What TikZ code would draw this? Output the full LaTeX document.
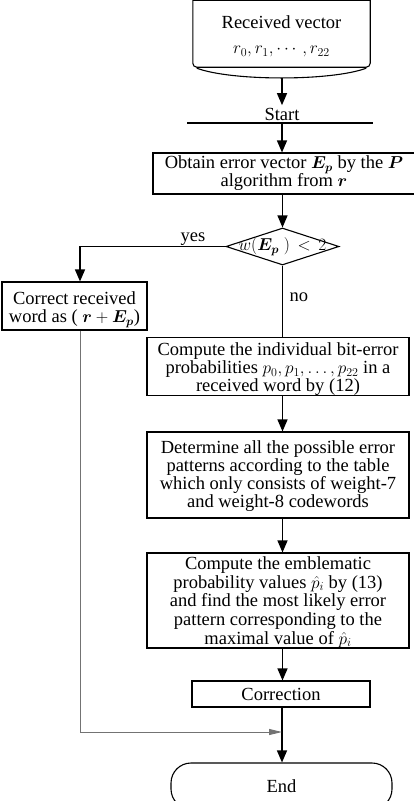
\documentclass[tikz,border=0pt]{standalone}
\usepackage{amsmath,amssymb}
\usepackage{fontspec}
\setmainfont{Liberation Serif}
\usetikzlibrary{arrows.meta, positioning, shapes.geometric, calc}
\newcommand{\boxfont}{\fontsize{18.5pt}{18pt}\selectfont}
\newcommand{\lift}[1]{\rule{0pt}{#1}}

\begin{document}
\begin{tikzpicture}[
    x=1pt, y=-1pt,
    every node/.style={font=\boxfont},
    box/.style={draw, rectangle, align=center, line width=1.1pt, inner sep=0pt},
    flow/.style={-{Triangle[width=10pt,length=12pt]}, line width=1.3pt},
    back/.style={-{Triangle[width=6pt,length=13pt]}, line width=1pt, black!55}
]
    \useasboundingbox (0,0) rectangle (414,801);
    \node (vec) [align=center, minimum width=177pt, minimum height=61pt, inner sep=0pt] at (281.5,36.5) {Received vector\\[7pt] $r_0, r_1, \cdots, r_{22}$};
    \draw[line width=1.1pt, rounded corners=4pt] ($(vec.north west)+(0,-6)$) -- (vec.south west) -- (vec.south east) -- ($(vec.north east)+(0,-6)$);
    \draw[line width=3pt] ($(vec.north west)+(0,-6)$) -- ($(vec.north east)+(0,-6)$);
    \draw[line width=1.1pt] ($(vec.south west)+(4,1)$) .. controls ($(vec.south)+(-50,14)$) and ($(vec.south)+(50,14)$) .. ($(vec.south east)+(-4,1)$);
    \node (start) [anchor=south, inner sep=2.5pt] at (282,123) {Start};
    \draw[line width=1.1pt] ($(start.south)+(-95,0)$) -- ($(start.south)+(91,0)$);
    \node (obtain) [box, minimum width=262pt, minimum height=41pt] at (284,173.5) {Obtain error vector $\boldsymbol{E_p}$ by the $\boldsymbol{P}$\\algorithm from $\boldsymbol{r}$};
    \node (check) [draw, diamond, line width=1.1pt, minimum width=113pt, minimum height=37pt, inner sep=0pt] at (282.5,246.5) {\makebox[0pt]{$w(\boldsymbol{E_p}\;)\,<\,2$}};
    \node (correct) [box, minimum width=145pt, minimum height=48pt] at (74.5,306) {\lift{20pt}Correct received\\word as ( $\boldsymbol{r}+\boldsymbol{E_p}$)};
    \node (prob) [box, minimum width=262pt, minimum height=58pt] at (278,366.5) {\lift{18pt}Compute the individual bit-error\\probabilities $p_0, p_1, \ldots, p_{22}$ in a\\received word by (12)};
    \node (pattern) [box, minimum width=262pt, minimum height=86pt] at (278,475) {\lift{15pt}Determine all the possible error\\patterns according to the table\\which only consists of weight-7\\and weight-8 codewords};
    \node (emblem) [box, minimum width=262pt, minimum height=95pt] at (278,600.5) {\lift{16pt}Compute the emblematic\\[0.75pt]probability values $\hat{p}_i$ by (13)\\[0.75pt]and find the most likely error\\[0.75pt]pattern corresponding to the\\[0.75pt]maximal value of $\hat{p}_i$};
    \node (correction) [box, minimum width=178pt, minimum height=26pt] at (281,694) {Correction};
    \node (finish) [draw, rectangle, rounded corners=20pt, line width=1.1pt, minimum width=221pt, minimum height=46pt] at (281.5,786) {End};
    \node (yes) at (193,239) {yes};
    \node (no) [anchor=west] at (286,297) {no};
    \coordinate (yesbend) at (80,246.5);
    \coordinate (join) at (282,732);
    \draw[flow] ($(vec.south)+(0.5,11)$) -- (start.north);
    \draw[flow] (start.south) -- (start.south |- obtain.north);
    \draw[flow] (obtain.south -| check) -- (check.north);
    \draw[flow] (check.west) -- (yesbend) -- (yesbend |- correct.north);
    \draw[line width=1.3pt] (check.south) -- (check.south |- prob.north);
    \draw[flow] (prob.south -| check) -- (check |- pattern.north);
    \draw[flow] (pattern.south -| check) -- (check |- emblem.north);
    \draw[flow] (emblem.south -| check) -- (check |- correction.north);
    \draw[flow] (correction.south -| join) -- (join |- finish.north);
    \draw[back] (correct.south -| yesbend) -- (yesbend |- join) -- (join);
\end{tikzpicture}
\end{document}
